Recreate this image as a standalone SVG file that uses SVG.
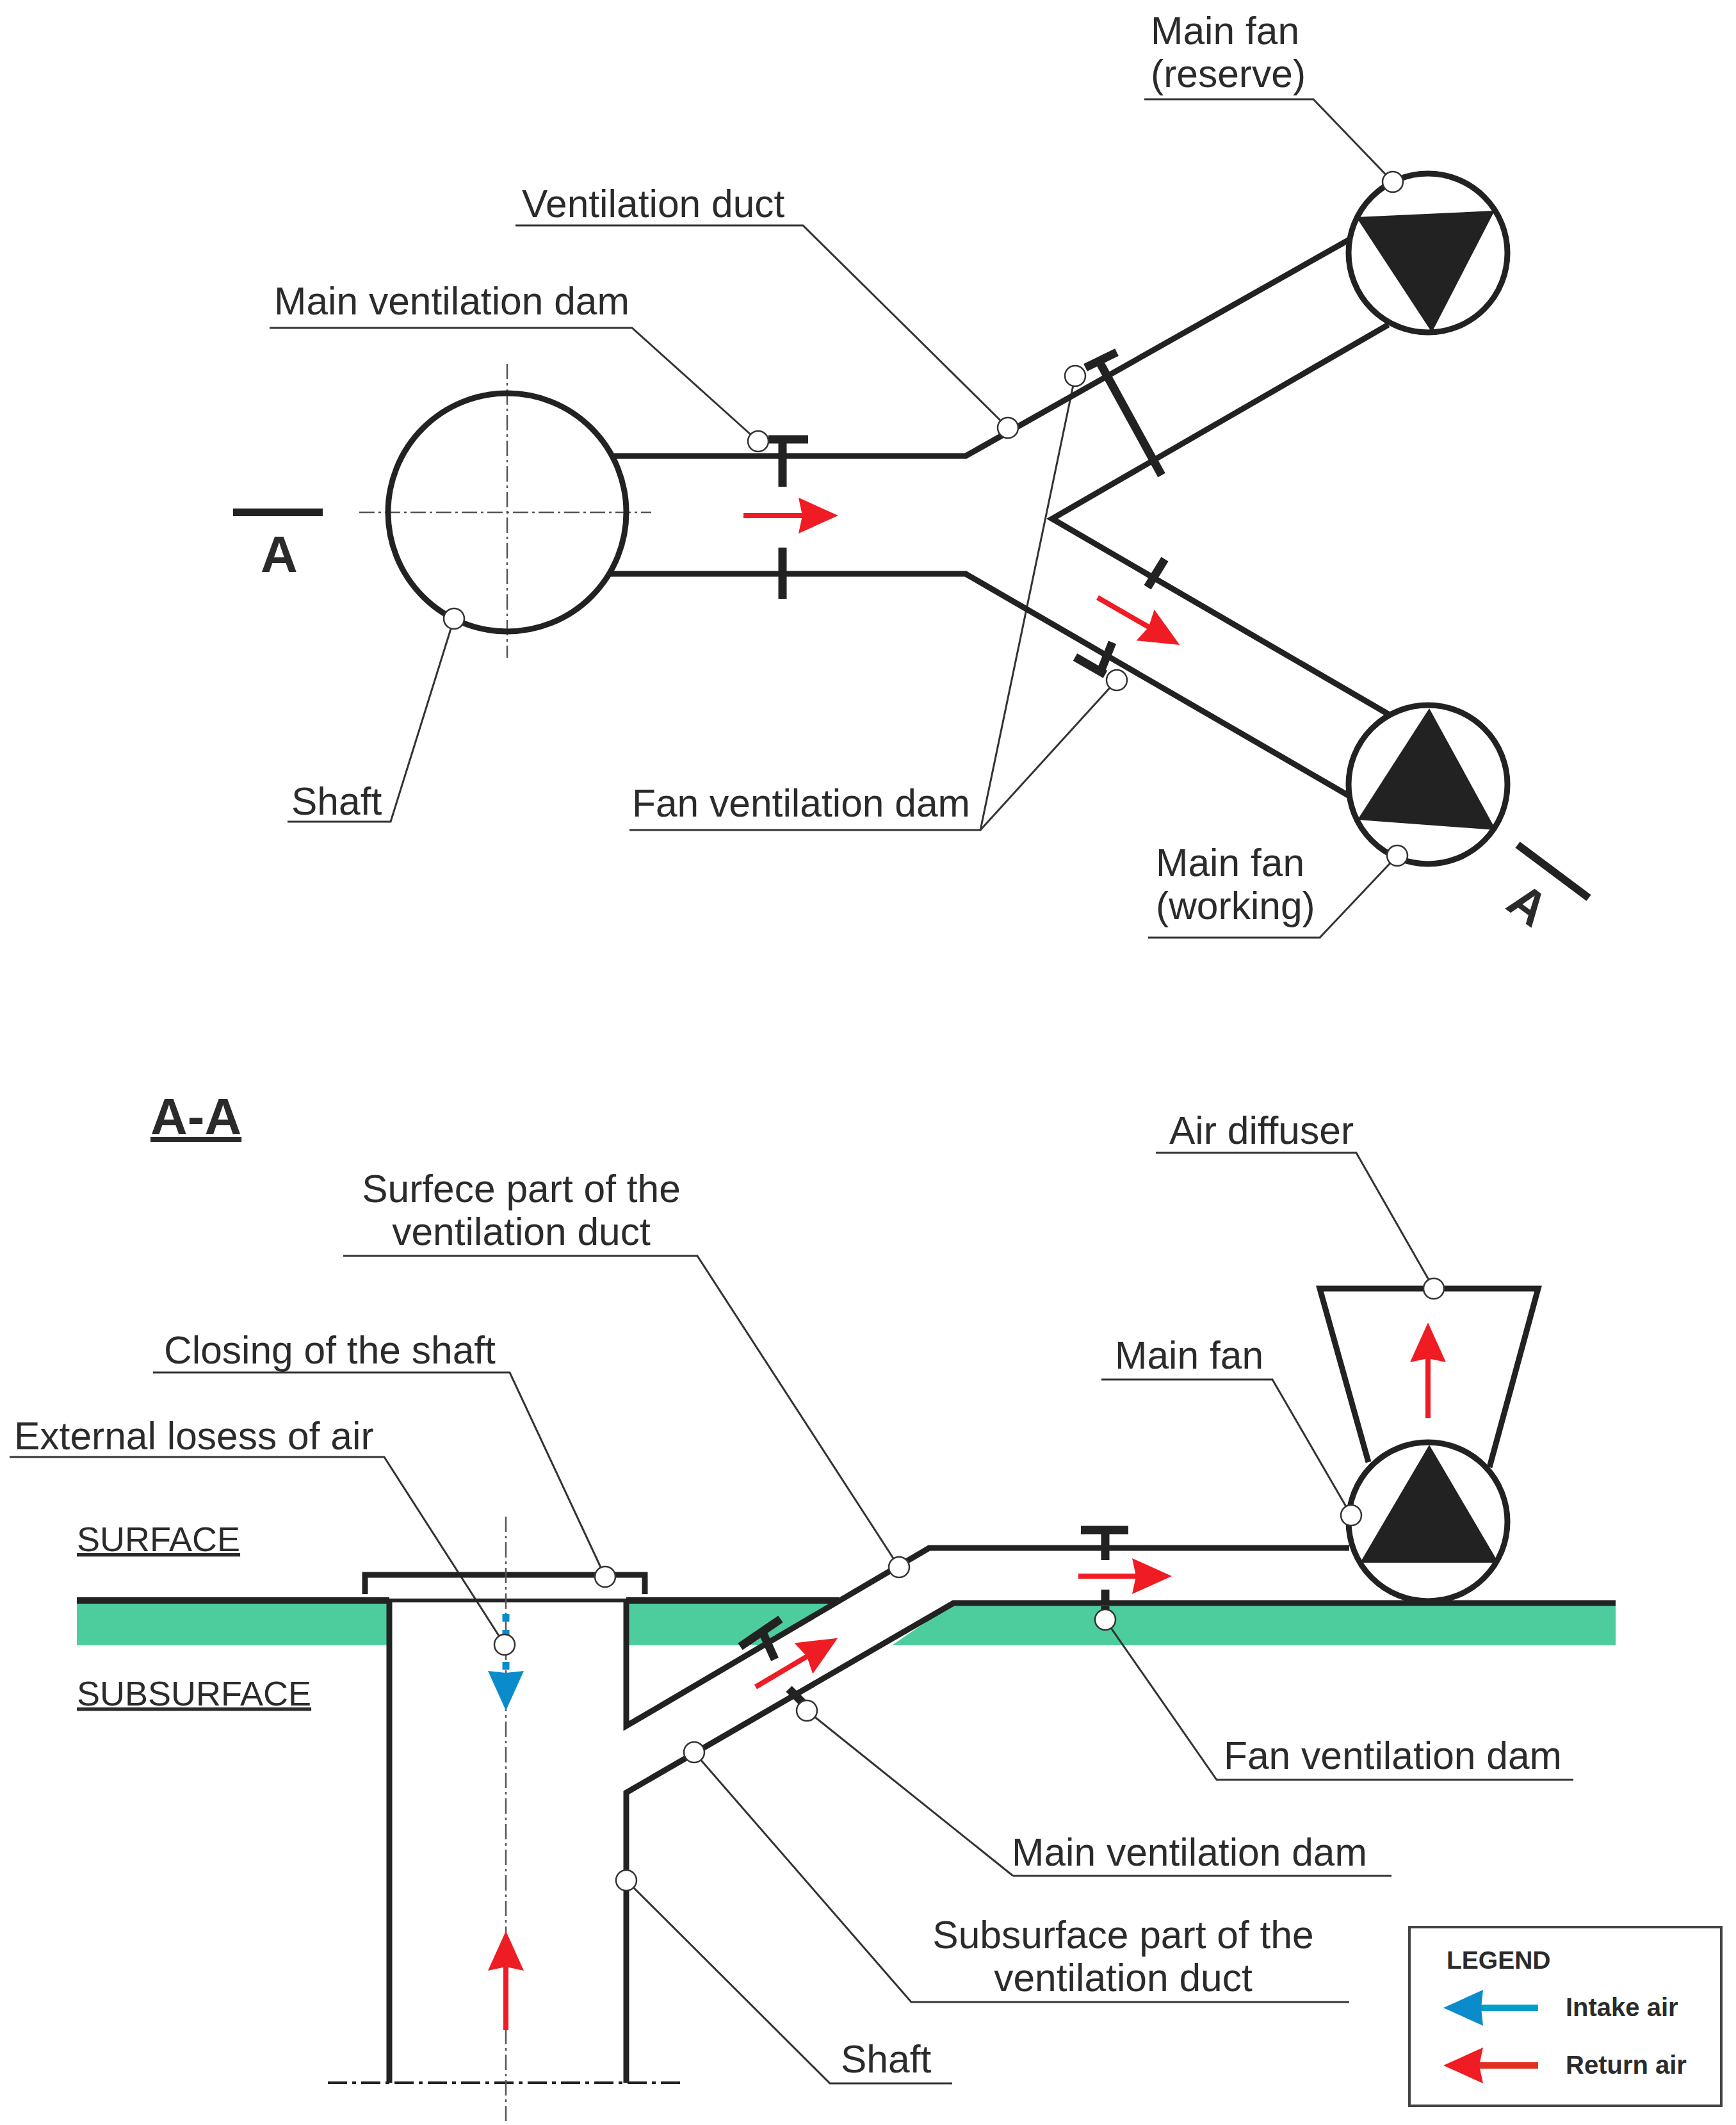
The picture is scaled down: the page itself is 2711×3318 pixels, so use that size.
<svg xmlns="http://www.w3.org/2000/svg" width="2711" height="3318" viewBox="0 0 2711 3318">
<defs>
<marker id="hr" markerUnits="userSpaceOnUse" markerWidth="62" markerHeight="58" refX="42" refY="29" orient="auto"><path d="M0,1 L62,29 L0,57 L6,29 Z" fill="#f01c24"/></marker>
<marker id="hb" markerUnits="userSpaceOnUse" markerWidth="62" markerHeight="58" refX="42" refY="29" orient="auto"><path d="M0,1 L62,29 L0,57 L3,29 Z" fill="#0a8ccc"/></marker>
</defs>
<style>
text{font-family:"Liberation Sans",Arial,sans-serif;fill:#2b2b2b}
.l{font-size:60.5px}
.u{font-size:54px;text-decoration:underline}
.b{font-weight:bold}
.w{fill:none;stroke:#222;stroke-width:9;stroke-linejoin:miter}
.d{fill:none;stroke:#222;stroke-width:13}
.t{fill:none;stroke:#333;stroke-width:3}
.c{fill:none;stroke:#555;stroke-width:2.5;stroke-dasharray:24 6 4 6}
.a{fill:#fff;stroke:#333;stroke-width:2.5}
.r{fill:none;stroke:#f01c24;stroke-width:8;marker-end:url(#hr)}
.tri{fill:#222}
.g{fill:#4dcc9e}
</style>
<rect width="2711" height="3318" fill="#fff"/>

<g id="ground">
<rect class="g" x="120" y="2499" width="488" height="70"/>
<polygon class="g" points="978,2499 1310,2499 1194,2569 978,2569"/>
<polygon class="g" points="1489,2503 2523,2503 2523,2569 1393,2569"/>
</g>

<g id="connectors">
<polyline class="t" points="1787,155 2051,155 2175,284"/>
<polyline class="t" points="1793,1464 2061,1464 2182,1336"/>
<polyline class="t" points="805,352 1254,352 1574,668"/>
<polyline class="t" points="421,512 987,512 1184,689"/>
<polyline class="t" points="449,1283 610,1283 709,966"/>
<polyline class="t" points="983,1296 1531,1296 1679,587"/>
<polyline class="t" points="1531,1296 1744,1062"/>
<polyline class="t" points="536,1961 1089,1961 1404,2447"/>
<polyline class="t" points="239,2143 796,2143 945,2462"/>
<polyline class="t" points="15,2275 600,2275 788,2568"/>
<polyline class="t" points="1582,2929 2173,2929"/>
<polyline class="t" points="1582,2929 1260,2671"/>
<polyline class="t" points="2107,3126 1423,3126 1084,2736"/>
<polyline class="t" points="1487,3253 1296,3253 978,2936"/>
<polyline class="t" points="2457,2779 1900,2779 1726,2529"/>
<polyline class="t" points="1805,1800 2118,1800 2239,2012"/>
<polyline class="t" points="1720,2154 1987,2154 2110,2366"/>
</g>

<g id="shaft-plan">
<line class="c" x1="561" y1="800" x2="1017" y2="800"/>
<line class="c" x1="792" y1="568" x2="792" y2="1027"/>
<circle class="w" cx="792" cy="800" r="186"/>
</g>
<g id="section-mark-left">
<line x1="364" y1="800" x2="504" y2="800" stroke="#222" stroke-width="12"/>
<text class="b" x="436" y="893" font-size="80" text-anchor="middle">A</text>
</g>
<g id="section-mark-right">
<line x1="2370" y1="1319" x2="2481" y2="1402" stroke="#222" stroke-width="12"/>
<text class="b" font-size="76" text-anchor="middle" transform="translate(2371,1434) rotate(36)">A</text>
</g>
<g id="duct-plan">
<polyline class="w" points="953,712 1508,712 2109,373"/>
<polyline class="w" points="953,896 1508,896 2109,1244"/>
<polyline class="w" points="2168,507 1643,810 2168,1115"/>
</g>
<g id="dams-plan">
<path class="d" d="M1200,686 H1262 M1222,686 V760 M1222,855 V935"/>
<path class="d" d="M1695,574 L1744,550 M1719,569 L1814,742"/>
<path class="d" d="M1679,1026 L1726,1053 M1737,1003 L1719,1048 M1819,873 L1792,917"/>
</g>
<g id="fan-reserve">
<circle class="w" cx="2230" cy="395" r="124" style="fill:#fff"/>
<polygon class="tri" points="2118,339 2334,329 2236,519"/>
</g>
<g id="fan-working">
<circle class="w" cx="2230" cy="1225" r="124" style="fill:#fff"/>
<polygon class="tri" points="2232,1106 2336,1296 2120,1280"/>
</g>
<g id="arrows-plan">
<line class="r" x1="1161" y1="805" x2="1289" y2="805"/>
<line class="r" x1="1714" y1="933" x2="1825" y2="997"/>
</g>

<g id="section">
<text class="b" x="235" y="1771" font-size="80" text-decoration="underline">A-A</text>
<line x1="120" y1="2499" x2="1310" y2="2499" stroke="#222" stroke-width="6"/>
<path d="M120,2499 H608 M978,2499 H1310" fill="none" stroke="#222" stroke-width="10"/>
<polyline class="w" points="570,2489 570,2459 1007,2459 1007,2489"/>
<line class="w" x1="608" y1="2499" x2="608" y2="3252"/>
<polyline class="w" points="978,2499 978,2695 1451,2417 2107,2417"/>
<polyline class="w" points="978,3252 978,2799 1489,2503 2523,2503"/>
<line x1="512" y1="3252" x2="1070" y2="3252" stroke="#222" stroke-width="4" stroke-dasharray="30 8 6 8"/>
<line class="c" x1="790" y1="2368" x2="790" y2="3318"/>
<line x1="790" y1="2520" x2="790" y2="2651" stroke="#0a8ccc" stroke-width="11" stroke-dasharray="12 13" marker-end="url(#hb)"/>
<line class="r" x1="790" y1="3170" x2="790" y2="3035"/>
<line class="r" x1="1180" y1="2634" x2="1291" y2="2568"/>
<line class="r" x1="1684" y1="2461" x2="1810" y2="2461"/>
<path class="d" d="M1156,2571 L1219,2528 M1192,2551 L1210,2591 M1232,2637 L1254,2659"/>
<path class="d" d="M1688,2389 H1762 M1726,2389 V2436 M1726,2482 V2500 M1726,2508 V2525"/>
</g>
<g id="fan-section">
<polyline class="w" points="2137,2283 2061,2012 2402,2012 2326,2291"/>
<circle class="w" cx="2230" cy="2376" r="124" style="fill:#fff"/>
<polygon class="tri" points="2232,2256 2340,2440 2124,2440"/>
<line class="r" x1="2230" y1="2214" x2="2230" y2="2085"/>
</g>

<g id="anchors">
<circle class="a" cx="2175" cy="284" r="16"/>
<circle class="a" cx="2182" cy="1336" r="16"/>
<circle class="a" cx="1574" cy="668" r="16"/>
<circle class="a" cx="1184" cy="689" r="16"/>
<circle class="a" cx="709" cy="966" r="16"/>
<circle class="a" cx="1679" cy="587" r="16"/>
<circle class="a" cx="1744" cy="1062" r="16"/>
<circle class="a" cx="1404" cy="2447" r="16"/>
<circle class="a" cx="945" cy="2462" r="16"/>
<circle class="a" cx="788" cy="2568" r="16"/>
<circle class="a" cx="1260" cy="2671" r="16"/>
<circle class="a" cx="1084" cy="2736" r="16"/>
<circle class="a" cx="978" cy="2936" r="16"/>
<circle class="a" cx="1726" cy="2529" r="16"/>
<circle class="a" cx="2239" cy="2012" r="16"/>
<circle class="a" cx="2110" cy="2366" r="16"/>
</g>

<g id="labels">
<text class="l" x="1797" y="69">Main fan</text>
<text class="l" x="1797" y="136">(reserve)</text>
<text class="l" x="815" y="339">Ventilation duct</text>
<text class="l" x="428" y="491">Main ventilation dam</text>
<text class="l" x="455" y="1272">Shaft</text>
<text class="l" x="987" y="1275">Fan ventilation dam</text>
<text class="l" x="1805" y="1368">Main fan</text>
<text class="l" x="1805" y="1435">(working)</text>
<text class="l" x="1826" y="1786">Air diffuser</text>
<text class="l" x="814" y="1877" text-anchor="middle">Surfece part of the</text>
<text class="l" x="814" y="1944" text-anchor="middle">ventilation duct</text>
<text class="l" x="256" y="2129">Closing of the shaft</text>
<text class="l" x="1741" y="2137">Main fan</text>
<text class="l" x="22" y="2263">External losess of air</text>
<text class="u" x="120" y="2422">SURFACE</text>
<text class="u" x="120" y="2663">SUBSURFACE</text>
<text class="l" x="1911" y="2762">Fan ventilation dam</text>
<text class="l" x="1580" y="2913">Main ventilation dam</text>
<text class="l" x="1754" y="3042" text-anchor="middle">Subsurface part of the</text>
<text class="l" x="1754" y="3109" text-anchor="middle">ventilation duct</text>
<text class="l" x="1313" y="3236">Shaft</text>
</g>

<g id="legend">
<rect x="2201" y="3009" width="487" height="279" fill="#fff" stroke="#444" stroke-width="4"/>
<text class="b" x="2259" y="3074" font-size="39">LEGEND</text>
<line x1="2402" y1="3135" x2="2274" y2="3135" stroke="#00a0c8" stroke-width="10" marker-end="url(#hb)"/>
<text class="b" x="2445" y="3148" font-size="40">Intake air</text>
<line x1="2402" y1="3225" x2="2274" y2="3225" stroke="#e03020" stroke-width="10" marker-end="url(#hr)"/>
<text class="b" x="2445" y="3238" font-size="40">Return air</text>
</g>
</svg>
